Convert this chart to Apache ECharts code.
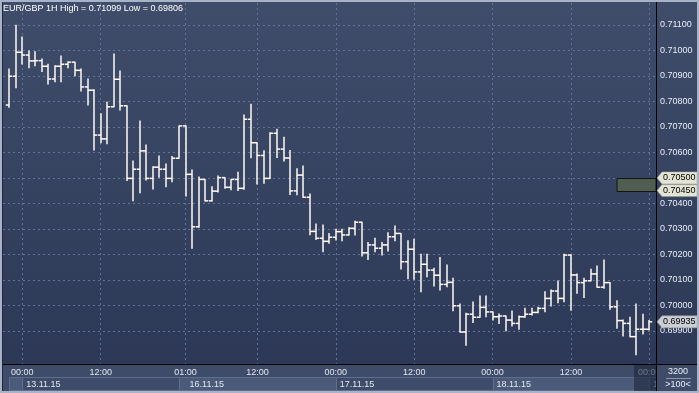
<!DOCTYPE html>
<html><head><meta charset="utf-8">
<script src="https://cdn.jsdelivr.net/npm/echarts@6/dist/echarts.min.js"></script>
<style>html,body{margin:0;padding:0;background:#2e3a57}#c{width:699px;height:393px}</style>
</head><body><div id="c"></div>
<script>
// ---- data ----
const dayNames = ['12.11','13.11','16.11','17.11','18.11','19.11'];
const openV = [0.70786,0.70899,0.70993,0.70982,0.70959,0.70960,0.70938,0.70888,0.70938,0.70946,
0.70954,0.70922,0.70857,0.70844,0.70668,0.70653,0.70779,0.70887,0.70783,0.70498,
0.70534,0.70606,0.70498,0.70542,0.70534,0.70498,0.70577,0.70704,0.70514,0.70308,
0.70494,0.70410,0.70448,0.70501,0.70463,0.70494,0.70459,0.70730,0.70638,0.70588,
0.70498,0.70675,0.70613,0.70578,0.70449,0.70511,0.70424,0.70290,0.70263,0.70251,
0.70267,0.70289,0.70276,0.70302,0.70326,0.70206,0.70237,0.70224,0.70237,0.70269,
0.70282,0.70171,0.70220,0.70131,0.70161,0.70138,0.70118,0.70082,0.70090,0.69998,
0.69895,0.69965,0.69953,0.69992,0.69974,0.69955,0.69958,0.69942,0.69929,0.69955,
0.69965,0.69972,0.69988,0.70027,0.70056,0.70027,0.70197,0.70119,0.70089,0.70096,
0.70123,0.70071,0.70089,0.69994,0.69940,0.69929,0.69877,0.69906,0.69906];
const highV = [0.70927,0.71099,0.71053,0.70998,0.70995,0.70967,0.70946,0.70940,0.70978,0.70956,
0.70954,0.70927,0.70888,0.70846,0.70752,0.70797,0.70986,0.70919,0.70783,0.70566,
0.70723,0.70629,0.70544,0.70586,0.70554,0.70584,0.70704,0.70704,0.70531,0.70503,
0.70494,0.70465,0.70507,0.70501,0.70494,0.70522,0.70747,0.70789,0.70638,0.70606,
0.70677,0.70691,0.70659,0.70607,0.70536,0.70547,0.70437,0.70319,0.70315,0.70282,
0.70298,0.70298,0.70304,0.70330,0.70326,0.70246,0.70263,0.70246,0.70285,0.70311,
0.70282,0.70253,0.70259,0.70200,0.70200,0.70145,0.70188,0.70158,0.70106,0.70005,
0.69969,0.70013,0.70036,0.70036,0.69974,0.69966,0.69958,0.69978,0.69958,0.69988,
0.69988,0.69992,0.70053,0.70060,0.70095,0.70200,0.70197,0.70123,0.70106,0.70141,
0.70154,0.70178,0.70089,0.70018,0.69942,0.69953,0.70005,0.69965,0.69940];
const lowV = [0.70777,0.70854,0.70947,0.70932,0.70940,0.70917,0.70868,0.70877,0.70877,0.70932,
0.70901,0.70841,0.70786,0.70609,0.70638,0.70634,0.70779,0.70766,0.70490,0.70410,
0.70442,0.70492,0.70456,0.70502,0.70465,0.70485,0.70577,0.70429,0.70224,0.70306,
0.70409,0.70409,0.70445,0.70459,0.70453,0.70450,0.70455,0.70579,0.70476,0.70479,
0.70498,0.70580,0.70566,0.70435,0.70434,0.70424,0.70277,0.70258,0.70210,0.70243,
0.70256,0.70253,0.70276,0.70276,0.70193,0.70180,0.70210,0.70197,0.70213,0.70253,
0.70142,0.70104,0.70102,0.70053,0.70112,0.70076,0.70060,0.70073,0.69979,0.69895,
0.69843,0.69932,0.69953,0.69955,0.69942,0.69929,0.69900,0.69919,0.69906,0.69953,
0.69962,0.69971,0.69975,0.69997,0.70010,0.70014,0.69981,0.70047,0.70031,0.70096,
0.70071,0.70067,0.69984,0.69910,0.69879,0.69877,0.69806,0.69887,0.69903];
const closeV = [0.70899,0.70993,0.70982,0.70959,0.70960,0.70938,0.70888,0.70938,0.70946,0.70954,
0.70922,0.70857,0.70844,0.70668,0.70653,0.70779,0.70887,0.70783,0.70498,0.70534,
0.70606,0.70498,0.70542,0.70534,0.70498,0.70577,0.70704,0.70514,0.70308,0.70494,
0.70410,0.70448,0.70501,0.70463,0.70494,0.70459,0.70730,0.70638,0.70588,0.70498,
0.70675,0.70613,0.70578,0.70449,0.70511,0.70424,0.70290,0.70263,0.70251,0.70267,
0.70289,0.70276,0.70302,0.70326,0.70206,0.70237,0.70224,0.70237,0.70269,0.70282,
0.70171,0.70220,0.70131,0.70161,0.70138,0.70118,0.70082,0.70090,0.69998,0.69895,
0.69965,0.69953,0.69992,0.69974,0.69955,0.69958,0.69942,0.69929,0.69955,0.69965,
0.69972,0.69988,0.70027,0.70056,0.70027,0.70197,0.70119,0.70089,0.70096,0.70123,
0.70071,0.70089,0.69994,0.69940,0.69929,0.69877,0.69906,0.69906,0.69935];
const yTickValues = [0.711,0.710,0.709,0.708,0.707,0.706,0.705,0.704,0.703,0.702,0.701,0.700,0.699];
const xTickIdx = [2,14,27,38,50,62,74,86,98];
const xTickLabels = ['00:00','12:00','01:00','12:00','00:00','12:00','00:00','12:00','00:00'];
const dayStartIdx = [0,2,26,50,74,98];
const dateLabelIdx = [2,27,50,74,98];
const dateLabels = ['13.11.15','16.11.15','17.11.15','18.11.15','19.11.15'];
const zoneHigh = 0.70500, zoneLow = 0.70450;
const lastPrice = 0.69935;
const titleText = 'EUR/GBP 1H High = 0.71099 Low = 0.69806';

// ---- chart ----
const FONT = "'Liberation Sans', Arial, sans-serif";
const ohlc = openV.map((o, i) => [i, o, highV[i], lowV[i], closeV[i]]);
const chart = echarts.init(document.getElementById('c'), null, {renderer: 'canvas'});

function renderItem(params, api) {
  const i = api.value(0);
  const o = api.coord([i, api.value(1)]);
  const h = api.coord([i, api.value(2)]);
  const l = api.coord([i, api.value(3)]);
  const c = api.coord([i, api.value(4)]);
  const x = Math.round(o[0]);
  const st = {stroke: '#fffaf4', lineWidth: 1.5};
  return {type: 'group', children: [
    {type: 'line', shape: {x1: x, y1: h[1] - 0.5, x2: x, y2: l[1] + 0.5}, style: st},
    {type: 'line', shape: {x1: x - 3.2, y1: o[1], x2: x, y2: o[1]}, style: st},
    {type: 'line', shape: {x1: x, y1: c[1], x2: x + 3.2, y2: c[1]}, style: st}
  ]};
}

const gridLine = {show: true, lineStyle: {color: '#62729a', width: 1, type: [2, 3]}};
chart.setOption({
  animation: false,
  backgroundColor: new echarts.graphic.LinearGradient(0, 0, 0, 1, [
    {offset: 0, color: '#3f4d6b'}, {offset: 1, color: '#2b3754'}]),
  title: {text: titleText, left: 3, top: 4, padding: 0,
    textStyle: {color: '#ffffff', fontSize: 9, fontWeight: 'normal', fontFamily: FONT}},
  grid: {left: 3, right: 43, top: 3, bottom: 29},
  xAxis: [{
    type: 'value', min: -0.949, max: 99.02,
    axisLine: {show: false},
    axisTick: {show: false, customValues: xTickIdx},
    splitLine: gridLine,
    axisLabel: {customValues: xTickIdx, margin: 4, color: '#e2e7f0', fontSize: 9, fontFamily: FONT,
      formatter: v => xTickLabels[xTickIdx.indexOf(Math.round(v))] || ''}
  }, {
    type: 'value', min: -0.949, max: 99.02, position: 'bottom', offset: 12,
    axisLine: {show: false}, splitLine: {show: false},
    axisTick: {show: false, customValues: dateLabelIdx},
    axisLabel: {customValues: dateLabelIdx, margin: 4, align: 'left', padding: [0, 0, 0, 4],
      color: '#e2e7f0', fontSize: 9, fontFamily: FONT,
      formatter: v => dateLabels[dateLabelIdx.indexOf(Math.round(v))] || ''}
  }],
  yAxis: {
    type: 'value', position: 'right', min: 0.697696, max: 0.711863, scale: true,
    axisLine: {show: false},
    axisTick: {show: false, customValues: yTickValues},
    splitLine: gridLine,
    axisLabel: {customValues: yTickValues, margin: 4, color: '#e8ecf4', fontSize: 9, fontFamily: FONT,
      formatter: v => v.toFixed(5)}
  },
  series: [{type: 'custom', renderItem, data: ohlc, encode: {x: 0, y: [1, 2, 3, 4]}, clip: true, z: 5}]
});

function build() {
  const px = (i, v) => chart.convertToPixel({gridIndex: 0}, [i, v]);
  const els = [];
  els.push({type: 'rect', z: -5, shape: {x: 0, y: 364, width: 699, height: 29}, style: {fill: '#3e4c6a'}});
  for (let k = 0; k < dayStartIdx.length; k++) {
    const x0 = px(dayStartIdx[k], zoneLow)[0];
    const x1 = k + 1 < dayStartIdx.length ? px(dayStartIdx[k + 1], zoneLow)[0] : 656;
    els.push({type: 'rect', z: -4, shape: {x: Math.round(x0) + 0.5, y: 377.5, width: Math.round(x1 - x0), height: 13},
      style: {fill: k % 2 === 0 ? '#4b5a79' : '#3e4c6a', stroke: '#5f6e8e', lineWidth: 1}});
  }
  els.push({type: 'rect', z: 50, shape: {x: 634, y: 365, width: 22, height: 26}, style: {fill: 'rgba(28,36,58,0.6)'}});
  els.push({type: 'rect', z: 60, shape: {x: 657, y: 365, width: 40, height: 26}, style: {fill: '#3e4c6a'}});
  els.push({type: 'text', z: 61, style: {x: 678, y: 372, text: '3200', fill: '#e8ecf4', font: '9px ' + FONT, align: 'center', verticalAlign: 'middle'}});
  els.push({type: 'line', z: 61, shape: {x1: 666, y1: 378.5, x2: 691, y2: 378.5}, style: {stroke: '#8a96ae', lineWidth: 1}});
  els.push({type: 'text', z: 61, style: {x: 678, y: 385, text: '>100<', fill: '#e8ecf4', font: '9px ' + FONT, align: 'center', verticalAlign: 'middle'}});
  els.push({type: 'line', z: 70, shape: {x1: 0, y1: 364.5, x2: 699, y2: 364.5}, style: {stroke: '#000', lineWidth: 1}});
  els.push({type: 'line', z: 70, shape: {x1: 656.5, y1: 0, x2: 656.5, y2: 393}, style: {stroke: '#000', lineWidth: 1}});
  const yH = px(0, zoneHigh)[1], yL = px(0, zoneLow)[1];
  els.push({type: 'rect', z: 20, shape: {x: 617, y: Math.round(yH) + 0.5, width: 39, height: Math.round(yL - yH)},
    style: {fill: '#4f5e50', stroke: '#11160f', lineWidth: 1}});
  const tag = (v, fill, z) => {
    const y = px(0, v)[1];
    els.push({type: 'polygon', z: z, shape: {points: [[657, y], [662, y - 6], [697, y - 6], [697, y + 6], [662, y + 6]]},
      style: {fill: fill, stroke: '#9aa09a', lineWidth: 0.5}});
    els.push({type: 'text', z: z + 1, style: {x: 663, y: y, text: v.toFixed(5), fill: '#000', font: '9px ' + FONT, verticalAlign: 'middle'}});
  };
  tag(zoneHigh, '#e4e4d4', 80);
  tag(zoneLow, '#e4e4d4', 82);
  tag(lastPrice, '#cbcfd4', 84);
  els.push({type: 'rect', z: 90, shape: {x: 1, y: 1, width: 697, height: 391}, style: {fill: null, stroke: '#a9b3c7', lineWidth: 2}});
  els.push({type: 'line', z: 90, shape: {x1: 2.5, y1: 2, x2: 2.5, y2: 391}, style: {stroke: '#1f2738', lineWidth: 1}});
  chart.setOption({graphic: {elements: els}});
}
build();
</script>
</body></html>
